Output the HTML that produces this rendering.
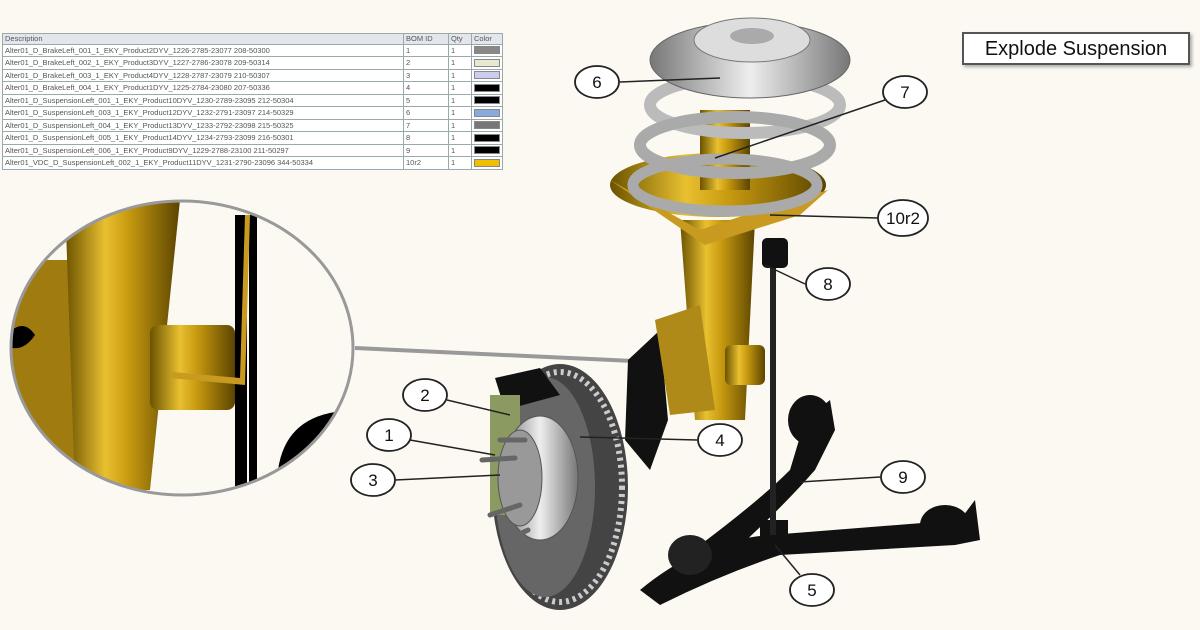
<!DOCTYPE html>
<html><head><meta charset="utf-8"><style>
html,body{margin:0;padding:0;background:#fbf9f2;}
body{width:1200px;height:630px;position:relative;overflow:hidden;font-family:"Liberation Sans",sans-serif;}
table{position:absolute;left:2px;top:33px;border-collapse:collapse;font-size:7.5px;color:#555;background:#fff;}
td{border:1px solid #9aa;height:9.5px;padding:0 2px;line-height:9px;white-space:nowrap;}
td.c{padding:1px 2px;}
td.c div{height:6px;border:1px solid #888;}
.btn{position:absolute;left:962px;top:32px;width:228px;height:33px;border:2px solid #555;background:#fff;box-shadow:2px 2px 3px #aaa;font-size:20px;line-height:31px;text-align:center;color:#111;box-sizing:border-box;}
</style></head><body>
<table>
<tr style="background:#e4e6ee"><td style="width:396px">Description</td><td style="width:40px">BOM ID</td><td style="width:18px">Qty</td><td style="width:26px">Color</td></tr>
<tr><td>Alter01_D_BrakeLeft_001_1_EKY_Product2DYV_1226-2785-23077 208-50300</td><td>1</td><td>1</td><td class="c"><div style="background:#888"></div></td></tr>
<tr><td>Alter01_D_BrakeLeft_002_1_EKY_Product3DYV_1227-2786-23078 209-50314</td><td>2</td><td>1</td><td class="c"><div style="background:#e8e8d0"></div></td></tr>
<tr><td>Alter01_D_BrakeLeft_003_1_EKY_Product4DYV_1228-2787-23079 210-50307</td><td>3</td><td>1</td><td class="c"><div style="background:#ccccee"></div></td></tr>
<tr><td>Alter01_D_BrakeLeft_004_1_EKY_Product1DYV_1225-2784-23080 207-50336</td><td>4</td><td>1</td><td class="c"><div style="background:#000"></div></td></tr>
<tr><td>Alter01_D_SuspensionLeft_001_1_EKY_Product10DYV_1230-2789-23095 212-50304</td><td>5</td><td>1</td><td class="c"><div style="background:#000"></div></td></tr>
<tr><td>Alter01_D_SuspensionLeft_003_1_EKY_Product12DYV_1232-2791-23097 214-50329</td><td>6</td><td>1</td><td class="c"><div style="background:#88aadd"></div></td></tr>
<tr><td>Alter01_D_SuspensionLeft_004_1_EKY_Product13DYV_1233-2792-23098 215-50325</td><td>7</td><td>1</td><td class="c"><div style="background:#777"></div></td></tr>
<tr><td>Alter01_D_SuspensionLeft_005_1_EKY_Product14DYV_1234-2793-23099 216-50301</td><td>8</td><td>1</td><td class="c"><div style="background:#000"></div></td></tr>
<tr><td>Alter01_D_SuspensionLeft_006_1_EKY_Product9DYV_1229-2788-23100 211-50297</td><td>9</td><td>1</td><td class="c"><div style="background:#000"></div></td></tr>
<tr><td>Alter01_VDC_D_SuspensionLeft_002_1_EKY_Product11DYV_1231-2790-23096 344-50334</td><td>10r2</td><td>1</td><td class="c"><div style="background:#f0c000"></div></td></tr>
</table>
<div class="btn">Explode Suspension</div>
<svg width="1200" height="630" style="position:absolute;left:0;top:0" xmlns="http://www.w3.org/2000/svg">
<defs>
<linearGradient id="g" x1="0" x2="1"><stop offset="0" stop-color="#6b5200"/><stop offset=".35" stop-color="#e8c030"/><stop offset=".55" stop-color="#c89a10"/><stop offset="1" stop-color="#5a4400"/></linearGradient>
<linearGradient id="s" x1="0" x2="1"><stop offset="0" stop-color="#777"/><stop offset=".5" stop-color="#eee"/><stop offset="1" stop-color="#777"/></linearGradient>
<clipPath id="cc"><ellipse cx="182" cy="348" rx="171" ry="147"/></clipPath>
</defs>
<!-- magnifier -->
<line x1="355" y1="348" x2="740" y2="366" stroke="#999" stroke-width="4"/>
<g clip-path="url(#cc)">
<rect x="0" y="190" width="380" height="320" fill="#fbf9f2"/>
<path d="M10 260 L95 260 L95 470 L10 470Z" fill="#a07c10"/>
<path d="M65 200 L180 200 L150 490 L75 490Z" fill="url(#g)"/>
<rect x="150" y="325" width="85" height="85" rx="8" fill="url(#g)"/>
<rect x="235" y="215" width="12" height="280" fill="#000"/>
<rect x="249" y="215" width="8" height="280" fill="#000"/>
<path d="M245 215 L250 215 L245 385 L170 378 L172 372 L240 378Z" fill="#c89a20"/>
<path d="M278 470 Q285 420 335 412 L345 440 Q320 470 278 470Z" fill="#000"/>
<path d="M12 330 Q25 320 35 335 Q25 350 12 348Z" fill="#000"/>
</g>
<ellipse cx="182" cy="348" rx="171" ry="147" fill="none" stroke="#999" stroke-width="3"/>
<!-- lower arms -->
<path d="M640 590 Q700 540 770 535 L960 520 L975 500 L980 540 L955 545 L780 555 Q720 575 660 605Z" fill="#111"/>
<path d="M700 545 Q760 500 790 470 L805 420 L830 400 L835 430 L815 470 Q780 510 730 555Z" fill="#111"/>
<ellipse cx="945" cy="525" rx="25" ry="20" fill="#111"/>
<ellipse cx="810" cy="420" rx="22" ry="25" fill="#111"/>
<ellipse cx="690" cy="555" rx="22" ry="20" fill="#222"/>
<rect x="760" y="520" width="28" height="30" fill="#111"/>
<!-- sway link -->
<rect x="770" y="255" width="6" height="280" fill="#222"/>
<rect x="762" y="238" width="26" height="30" rx="5" fill="#111"/>
<!-- knuckle -->
<path d="M628 360 L660 330 L668 420 L650 470 L625 440Z" fill="#111"/>
<!-- strut -->
<path d="M680 220 L755 220 L745 420 L695 420Z" fill="url(#g)"/>
<path d="M655 320 L700 305 L715 410 L670 415Z" fill="#b08a18"/>
<rect x="725" y="345" width="40" height="40" rx="6" fill="url(#g)"/>
<ellipse cx="718" cy="185" rx="108" ry="32" fill="url(#g)"/>
<path d="M610 180 L700 230 L760 210 L828 190 L800 215 L705 245Z" fill="#c89a20"/>
<rect x="700" y="110" width="50" height="80" fill="url(#g)"/>
<!-- spring -->
<ellipse cx="745" cy="105" rx="95" ry="28" fill="none" stroke="#bbb" stroke-width="12"/>
<ellipse cx="735" cy="145" rx="95" ry="28" fill="none" stroke="#aaa" stroke-width="12"/>
<ellipse cx="725" cy="185" rx="92" ry="26" fill="none" stroke="#aaa" stroke-width="11"/>
<ellipse cx="750" cy="60" rx="100" ry="38" fill="url(#s)" stroke="#666"/>
<ellipse cx="752" cy="40" rx="58" ry="22" fill="#ddd" stroke="#777"/>
<ellipse cx="752" cy="36" rx="22" ry="8" fill="#aaa"/>
<!-- disc / hub -->
<ellipse cx="560" cy="487" rx="68" ry="123" fill="#444"/>
<ellipse cx="560" cy="487" rx="62" ry="115" fill="none" stroke="#ccc" stroke-width="6" stroke-dasharray="3 4"/>
<ellipse cx="545" cy="487" rx="50" ry="110" fill="#666"/>
<path d="M495 378 L540 368 L560 395 L505 410Z" fill="#111"/>
<rect x="490" y="395" width="30" height="120" fill="#8a9a60"/>
<ellipse cx="540" cy="478" rx="38" ry="62" fill="url(#s)" stroke="#555"/>
<ellipse cx="520" cy="478" rx="22" ry="48" fill="#999" stroke="#555"/>
<g stroke="#666" stroke-width="5" stroke-linecap="round">
<line x1="482" y1="460" x2="515" y2="458"/><line x1="490" y1="515" x2="520" y2="505"/><line x1="507" y1="540" x2="528" y2="530"/><line x1="500" y1="440" x2="525" y2="440"/>
</g>
<!-- callouts -->
<g stroke="#222" stroke-width="1.5" fill="none">
<line x1="620" y1="82" x2="720" y2="78"/><line x1="885" y1="100" x2="715" y2="158"/>
<line x1="878" y1="218" x2="770" y2="215"/><line x1="805" y1="284" x2="765" y2="265"/>
<line x1="447" y1="400" x2="510" y2="415"/><line x1="410" y1="440" x2="495" y2="455"/>
<line x1="697" y1="440" x2="580" y2="437"/><line x1="395" y1="480" x2="500" y2="475"/>
<line x1="880" y1="477" x2="800" y2="482"/><line x1="800" y1="575" x2="775" y2="545"/>
</g>
<g fill="#fff" stroke="#222" stroke-width="1.8">
<ellipse cx="597" cy="82" rx="22" ry="16"/><ellipse cx="905" cy="92" rx="22" ry="16"/>
<ellipse cx="903" cy="218" rx="25" ry="18"/><ellipse cx="828" cy="284" rx="22" ry="16"/>
<ellipse cx="425" cy="395" rx="22" ry="16"/><ellipse cx="389" cy="435" rx="22" ry="16"/>
<ellipse cx="720" cy="440" rx="22" ry="16"/><ellipse cx="373" cy="480" rx="22" ry="16"/>
<ellipse cx="903" cy="477" rx="22" ry="16"/><ellipse cx="812" cy="590" rx="22" ry="16"/>
</g>
<g font-family="Liberation Sans, sans-serif" font-size="17" text-anchor="middle" fill="#111">
<text x="597" y="88">6</text><text x="905" y="98">7</text><text x="903" y="224">10r2</text>
<text x="828" y="290">8</text><text x="425" y="401">2</text><text x="389" y="441">1</text>
<text x="720" y="446">4</text><text x="373" y="486">3</text><text x="903" y="483">9</text>
<text x="812" y="596">5</text>
</g>
</svg>
</body></html>
